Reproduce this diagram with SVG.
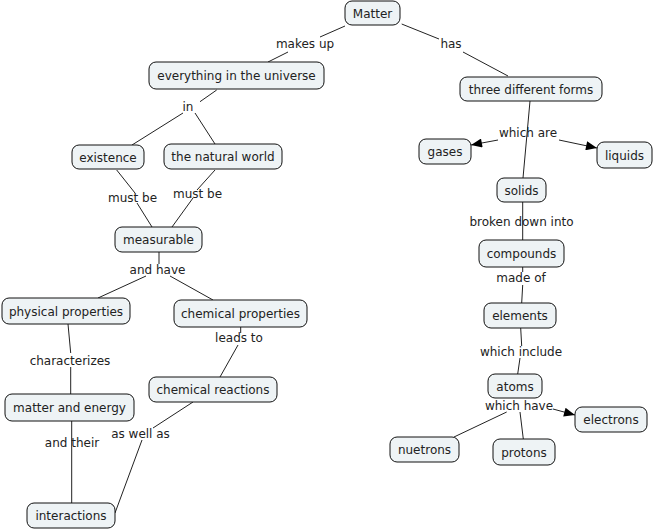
<svg xmlns="http://www.w3.org/2000/svg" width="654" height="531" viewBox="0 0 654 531">
<defs>
<style>
.n rect{fill:#eef3f5;stroke:#111;stroke-width:1}
text{font-family:"DejaVu Sans",Verdana,sans-serif;font-size:12px;fill:#222;text-anchor:middle}
.c path{fill:none;stroke:#222;stroke-width:1}
</style>
<marker id="ah" viewBox="0 0 11 9" refX="11" refY="4.5" markerWidth="12" markerHeight="9" orient="auto" markerUnits="userSpaceOnUse">
<path d="M0,0 L11,4.5 L0,9 z" fill="#000"/>
</marker>
</defs>
<rect width="654" height="531" fill="#fff"/>
<g id="connectors" class="c">
<path d="M345,26 L320,37"/><path d="M288,52 L268,62"/>
<path d="M401.7,24 L439,39"/><path d="M463,52 L508,76"/>
<path d="M216.7,90 L200,101.7"/><path d="M183,113 L132,145"/><path d="M195,113 L215,144"/>
<path d="M116.7,170 L135,193"/><path d="M137,203 L152,227"/>
<path d="M215,170 L197,190"/><path d="M193,198 L172,227"/>
<path d="M159,252 L159,264"/><path d="M146,276 L98,298"/><path d="M170,276 L213,300"/>
<path d="M68,324 L70.7,353"/><path d="M70.7,367 L70.7,394"/>
<path d="M240.7,327 L240.7,333"/><path d="M238,345 L220,377"/>
<path d="M193,402 L153,428"/><path d="M142,440 L115,513"/>
<path d="M71.7,421 L71.7,503"/>
<path d="M530,101 L523,178"/>
<path d="M498,140 L471,145" marker-end="url(#ah)"/>
<path d="M559,140 L597,148" marker-end="url(#ah)"/>
<path d="M522.7,202 L522.7,240"/>
<path d="M522.7,267 L522.7,272"/><path d="M522.7,285 L521.7,303"/>
<path d="M520.7,328 L521.7,346"/><path d="M520,358 L517.7,374"/>
<path d="M506.7,412 L454,437"/><path d="M520,412 L523.3,439"/>
<path d="M553,409 L575,415" marker-end="url(#ah)"/>
</g>
<g id="labels">
<text x="305" y="48">makes up</text>
<text x="451" y="48">has</text>
<text x="188" y="111">in</text>
<text x="132.5" y="202">must be</text>
<text x="197.5" y="198">must be</text>
<text x="157.5" y="274">and have</text>
<text x="70" y="365">characterizes</text>
<text x="239" y="342">leads to</text>
<text x="140.5" y="438">as well as</text>
<text x="72" y="447">and their</text>
<text x="528" y="137">which are</text>
<text x="521.5" y="226">broken down into</text>
<text x="521" y="282">made of</text>
<text x="521" y="356">which include</text>
<text x="519" y="410">which have</text>
</g>
<g id="matter" class="n"><rect x="345" y="1" width="55" height="24" rx="7"/><text x="372.5" y="17.5">Matter</text></g>
<g id="everything" class="n"><rect x="149" y="62" width="175" height="27" rx="7"/><text x="236.5" y="80">everything in the universe</text></g>
<g id="three-forms" class="n"><rect x="460" y="77" width="142" height="24" rx="7"/><text x="531" y="93.5">three different forms</text></g>
<g id="existence" class="n"><rect x="72" y="145" width="72" height="24" rx="7"/><text x="108" y="161.5">existence</text></g>
<g id="natural-world" class="n"><rect x="164" y="144" width="118" height="25" rx="7"/><text x="223" y="161">the natural world</text></g>
<g id="measurable" class="n"><rect x="115" y="227" width="87" height="25" rx="7"/><text x="158.5" y="244">measurable</text></g>
<g id="physical-properties" class="n"><rect x="2" y="298" width="128" height="26" rx="7"/><text x="66" y="315.5">physical properties</text></g>
<g id="chemical-properties" class="n"><rect x="174" y="300" width="133" height="27" rx="7"/><text x="240.5" y="318">chemical properties</text></g>
<g id="chemical-reactions" class="n"><rect x="149" y="377" width="128" height="25" rx="7"/><text x="213" y="394">chemical reactions</text></g>
<g id="matter-energy" class="n"><rect x="5" y="394" width="129" height="27" rx="7"/><text x="69.5" y="412">matter and energy</text></g>
<g id="interactions" class="n"><rect x="27" y="503" width="88" height="25" rx="7"/><text x="71" y="520">interactions</text></g>
<g id="gases" class="n"><rect x="419" y="139" width="52" height="25" rx="7"/><text x="445" y="156">gases</text></g>
<g id="liquids" class="n"><rect x="597" y="142" width="55" height="26" rx="7"/><text x="624.5" y="159.5">liquids</text></g>
<g id="solids" class="n"><rect x="497" y="178" width="49" height="24" rx="7"/><text x="521.5" y="194.5">solids</text></g>
<g id="compounds" class="n"><rect x="479" y="240" width="85" height="27" rx="7"/><text x="521.5" y="258">compounds</text></g>
<g id="elements" class="n"><rect x="484" y="303" width="72" height="25" rx="7"/><text x="520" y="320">elements</text></g>
<g id="atoms" class="n"><rect x="488" y="374" width="54" height="24" rx="7"/><text x="515" y="390.5">atoms</text></g>
<g id="electrons" class="n"><rect x="575" y="407" width="72" height="25" rx="7"/><text x="611" y="424">electrons</text></g>
<g id="nuetrons" class="n"><rect x="390" y="437" width="69" height="25" rx="7"/><text x="424.5" y="454">nuetrons</text></g>
<g id="protons" class="n"><rect x="493" y="439" width="62" height="26" rx="7"/><text x="524" y="456.5">protons</text></g>
</svg>
